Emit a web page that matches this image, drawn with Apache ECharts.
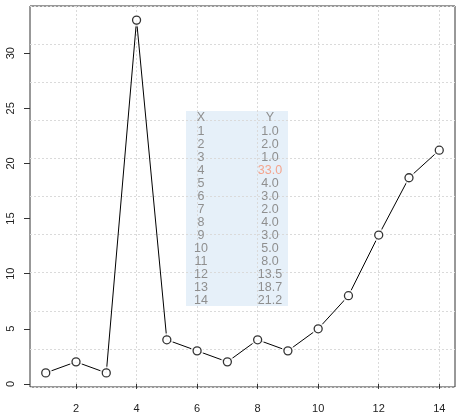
<!DOCTYPE html>
<html><head><meta charset="utf-8">
<script src="https://cdn.jsdelivr.net/npm/echarts@6/dist/echarts.min.js"></script>
<style>html,body{margin:0;padding:0;background:#fff}#c{width:474px;height:418px}</style>
</head><body><div id="c"></div>
<script>
const xValues = [1,2,3,4,5,6,7,8,9,10,11,12,13,14];
const yValues = [1.0,2.0,1.0,33.0,4.0,3.0,2.0,4.0,3.0,5.0,8.0,13.5,18.7,21.2];
const xTicks = [2,4,6,8,10,12,14];
const yTicks = [0,5,10,15,20,25,30];
const tableHeader = ['X','Y'];
const highlightIndex = 3;

const xMin = 1 - 0.04*13, xMax = 14 + 0.04*13;
const yMin = 1 - 0.04*32, yMax = 33 + 0.04*32;
const pts = xValues.map((x,i)=>[x,yValues[i]]);
const font = 'Liberation Sans, Arial, sans-serif';

const gridL=30, gridR=19, gridT=6, gridB=31;

// table graphics
const tbl = [];
tbl.push({type:'rect', shape:{x:186,y:111,width:102,height:195}, style:{fill:'#e6f0f9'}, z:0, zlevel:0});
const rowH = 13.05, y0 = 118;
const tfont = '12.5px '+font;
tbl.push({type:'text', x:201, y:y0, style:{text:tableHeader[0], fill:'#8f8f8f', font:tfont, align:'center', verticalAlign:'middle'}, z:6});
tbl.push({type:'text', x:270, y:y0, style:{text:tableHeader[1], fill:'#8f8f8f', font:tfont, align:'center', verticalAlign:'middle'}, z:6});
xValues.forEach((x,i)=>{
  const yy = y0 + rowH*(i+1);
  tbl.push({type:'text', x:201, y:yy, style:{text:String(x), fill:'#8f8f8f', font:tfont, align:'center', verticalAlign:'middle'}, z:6});
  tbl.push({type:'text', x:270, y:yy, style:{text:yValues[i].toFixed(1), fill: i===highlightIndex?'#f4a58e':'#8f8f8f', font:tfont, align:'center', verticalAlign:'middle'}, z:6});
});

const chart = echarts.init(document.getElementById('c'), null, {renderer:'canvas'});
chart.setOption({
  animation:false,
  backgroundColor:'#fff',
  grid:{left:gridL,right:gridR,top:gridT,bottom:gridB,show:true,borderColor:'#333',borderWidth:1,backgroundColor:'transparent'},
  xAxis:[{
    type:'value', min:xMin, max:xMax,
    axisLine:{show:false},
    axisTick:{show:true, inside:false, length:5, lineStyle:{color:'#333'}, customValues:xTicks},
    axisLabel:{show:true, customValues:xTicks, color:'#222', fontSize:11, fontFamily:font, margin:16, showMinLabel:true, showMaxLabel:true},
    splitLine:{show:true, lineStyle:{color:'#dadada', type:[2,2], width:1}}
  }],
  yAxis:[{
    type:'value', min:yMin, max:yMax,
    axisLine:{show:false},
    axisTick:{show:true, inside:false, length:6, lineStyle:{color:'#333'}, customValues:yTicks},
    axisLabel:{show:true, customValues:yTicks, color:'#222', fontSize:11, fontFamily:font, rotate:90, margin:14, showMinLabel:true, showMaxLabel:true},
    splitLine:{show:false}
  },{
    type:'value', min:0, max:10, interval:1, position:'right',
    axisLine:{show:false}, axisTick:{show:false}, axisLabel:{show:false},
    splitLine:{show:true, lineStyle:{color:'#dadada', type:[2,2], width:1}}
  }],
  series:[
    {type:'line', data:pts, symbol:'none', lineStyle:{color:'#000', width:1}, z:2},
    {type:'scatter', data:pts, symbol:'circle', symbolSize:13, itemStyle:{color:'#fff'}, z:3},
    {type:'scatter', data:pts, symbol:'circle', symbolSize:8, itemStyle:{color:'#fff', borderColor:'#000', borderWidth:1.3}, z:4}
  ],
  graphic: tbl
});
</script></body></html>
